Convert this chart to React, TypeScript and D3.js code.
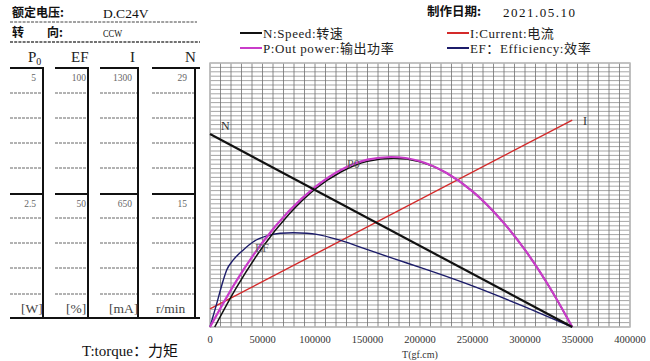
import React from "react";
import * as d3 from "d3";

// ---- data ----
const torqueTicks = [0, 50000, 100000, 150000, 200000, 250000, 300000, 350000, 400000];

const speedTorque = [0, 345000];
const speedValues = [21.2, 0]; // r/min

const currentTorque = [0, 345000];
const currentValues = [89, 1019]; // mA

const powerTorque = [0, 25000, 50000, 75000, 100000, 125000, 150000, 172500, 200000, 225000, 250000, 275000, 300000, 325000, 345000];
const powerValues = [0, 0.87, 1.6, 2.19, 2.65, 2.98, 3.17, 3.22, 3.14, 2.92, 2.57, 2.08, 1.46, 0.7, 0]; // W

const p0Torque = [4500, 25000, 50000, 75000, 100000, 125000, 150000, 175000, 200000, 225000, 250000, 275000, 300000, 325000, 345000];
const p0Values = [0, 0.74, 1.51, 2.13, 2.61, 2.94, 3.14, 3.195, 3.13, 2.92, 2.57, 2.08, 1.46, 0.7, 0];

const efTorque = [0, 6000, 12700, 15900, 22200, 31700, 41300, 54000, 66700, 79400, 92100, 101600, 125000, 150000, 175000, 200000, 225000, 250000, 275000, 300000, 325000, 345000];
const efValues = [0, 8.3, 17.8, 21.6, 25.4, 29.2, 32.3, 34.5, 35.5, 35.7, 35.5, 35.1, 32.7, 29.3, 25.9, 22.6, 19.2, 15.6, 11.7, 7.6, 3.4, 0]; // %

const tableHeaders = ["P", "EF", "I", "N"];
const tableTopValues = ["5", "100", "1300", "29"];
const tableMidValues = ["2.5", "50", "650", "15"];
const tableUnits = ["[W]", "[%]", "[mA]", "r/min"];

const legendItems = [
  { label: "N:Speed:转速", color: "#111111" },
  { label: "I:Current:电流", color: "#d42a2a" },
  { label: "P:Out power:输出功率", color: "#c93cc9" },
  { label: "EF：Efficiency:效率", color: "#1c1c6a" },
];

// ---- layout ----
const W = 650, H = 361;
const PL = 210, PR = 630, PT = 63, PB = 327;
const GRID_COLS = 40;
const GRID_ROWS = 60;

const serif = "'Liberation Serif', 'Noto Sans CJK SC', serif";
const cjk = "'Noto Sans CJK SC', sans-serif";

export default function App() {
  const x = d3.scaleLinear().domain([0, 400000]).range([PL, PR]);
  const yP = d3.scaleLinear().domain([0, 5]).range([PB, PT]);
  const yEF = d3.scaleLinear().domain([0, 100]).range([PB, PT]);
  const yI = d3.scaleLinear().domain([0, 1300]).range([PB, PT]);
  const yN = d3.scaleLinear().domain([0, 29]).range([PB, PT]);

  const mk = (xs: number[], ys: number[], ys2: (v: number) => number, curve: any) =>
    d3.line<number>().x((_, i) => x(xs[i])).y((v) => ys2(v)).curve(curve)(ys) || "";

  const speedPath = mk(speedTorque, speedValues, yN, d3.curveLinear);
  const currentPath = mk(currentTorque, currentValues, yI, d3.curveLinear);
  const powerPath = mk(powerTorque, powerValues, yP, d3.curveMonotoneX);
  const p0Path = mk(p0Torque, p0Values, yP, d3.curveMonotoneX);
  const efPath = mk(efTorque, efValues, yEF, d3.curveMonotoneX);

  const vGrid = d3.range(GRID_COLS + 1).map((i) => PL + ((PR - PL) * i) / GRID_COLS);
  const hGrid = d3.range(GRID_ROWS + 1).map((i) => PT + ((PB - PT) * i) / GRID_ROWS);

  // table columns
  const colLeft = [10, 55, 100, 152];
  const colRight = [43, 88, 138, 195];
  const headerX = [28, 71, 130, 185];
  const topValRight = [36, 86, 132, 187];
  const unitX = [21, 66, 109, 156];
  const dashRows = [93, 118, 143, 168, 218, 243, 268, 294];

  return (
    <svg width={W} height={H} style={{ position: "absolute", left: 0, top: 0, background: "#fff" }}>
      <rect x={0} y={0} width={W} height={H} fill="#fff" />
      {/* header texts */}
      <text x={12} y={17} fontFamily={cjk} fontWeight="bold" fontSize={12} fill="#111">额定电压:</text>
      <text x={103} y={18} fontFamily={serif} fontSize={13.5} fill="#111">D.C24V</text>
      <line x1={10} x2={197} y1={22} y2={22} stroke="#444" strokeWidth={1} strokeDasharray="3,1.2" />
      <text x={12} y={37} fontFamily={cjk} fontWeight="bold" fontSize={12} fill="#111">转</text>
      <text x={47} y={37} fontFamily={cjk} fontWeight="bold" fontSize={12} fill="#111">向:</text>
      <text x={103} y={37} fontFamily={serif} fontSize={10} fill="#111" textLength={19} lengthAdjust="spacingAndGlyphs">CCW</text>
      <line x1={10} x2={200} y1={42} y2={42} stroke="#444" strokeWidth={1.5} strokeDasharray="3,1.2" />

      {/* table */}
      {tableHeaders.map((h, i) => (
        <text key={"h" + i} x={headerX[i]} y={62} fontFamily={serif} fontSize={15} fill="#222">
          {h}
          {i === 0 ? <tspan fontSize={10} dy={3}>0</tspan> : null}
        </text>
      ))}
      {colLeft.map((l, i) => (
        <g key={"c" + i}>
          <line x1={l} x2={i === 3 ? 200 : colRight[i] + 1} y1={68} y2={68} stroke="#111" strokeWidth={2} />
          <line x1={l} x2={colRight[i] + 1} y1={194} y2={194} stroke="#111" strokeWidth={2} />
          <line x1={colRight[i]} x2={colRight[i]} y1={67} y2={319} stroke="#111" strokeWidth={2} />
          {dashRows.map((r, j) => (
            <line key={j} x1={l} x2={colRight[i] - 1} y1={r} y2={r} stroke="#666" strokeWidth={1} strokeDasharray="3,1" />
          ))}
          <text x={topValRight[i]} y={81} textAnchor="end" fontFamily={serif} fontSize={9.5} fill="#666">{tableTopValues[i]}</text>
          <text x={topValRight[i]} y={207} textAnchor="end" fontFamily={serif} fontSize={9.5} fill="#666">{tableMidValues[i]}</text>
          <text x={unitX[i]} y={313} fontFamily={serif} fontSize={13.5} fill="#444">{tableUnits[i]}</text>
        </g>
      ))}
      <line x1={10} x2={200} y1={318} y2={318} stroke="#111" strokeWidth={2} />
      <text x={82} y={356} fontFamily={serif} fontSize={15} fill="#111">T:torque：力矩</text>

      {/* date */}
      <text x={427} y={16} fontFamily={cjk} fontWeight="bold" fontSize={12.5} fill="#111">制作日期:</text>
      <text x={503} y={17} fontFamily={serif} fontSize={13} letterSpacing={1.5} fill="#111">2021.05.10</text>

      {/* legend */}
      {legendItems.map((it, i) => {
        const lx = i % 2 === 0 ? 240 : 447;
        const ly = i < 2 ? 33 : 48;
        return (
          <g key={"l" + i}>
            <line x1={lx} x2={lx + 22} y1={ly} y2={ly} stroke={it.color} strokeWidth={2} />
            <text x={lx + 23} y={ly + 5} fontFamily={serif} fontSize={13} letterSpacing={0.6} fill="#222">{it.label}</text>
          </g>
        );
      })}

      {/* grid */}
      {hGrid.map((yy, i) => (
        <line key={"hg" + i} x1={PL} x2={PR} y1={yy} y2={yy} stroke="#808080" strokeWidth={0.7} />
      ))}
      {vGrid.map((xx, i) => (
        <line key={"vg" + i} x1={xx} x2={xx} y1={PT} y2={PB} stroke="#707070" strokeWidth={0.8} />
      ))}
      <rect x={PL} y={PT} width={PR - PL} height={PB - PT} fill="none" stroke="#bdbdbd" strokeWidth={1.5} />

      {/* curves */}
      <path d={currentPath} fill="none" stroke="#d42a2a" strokeWidth={1.4} />
      <path d={efPath} fill="none" stroke="#1c1c6a" strokeWidth={1.4} />
      <path d={p0Path} fill="none" stroke="#111" strokeWidth={1.5} />
      <path d={powerPath} fill="none" stroke="#c93cc9" strokeWidth={2.2} />
      <path d={speedPath} fill="none" stroke="#111" strokeWidth={2.2} />

      {/* curve labels */}
      <text x={221} y={130} fontFamily={serif} fontSize={12} fill="#333">N</text>
      <text x={583} y={125} fontFamily={serif} fontSize={12} fill="#333">I</text>
      <text x={347} y={168} fontFamily={serif} fontSize={12} fill="#555">P0</text>
      <text x={255} y={252} fontFamily={serif} fontSize={12} fill="#666">EF</text>

      {/* axis ticks */}
      {torqueTicks.map((t) => (
        <text key={"t" + t} x={x(t)} y={343} textAnchor="middle" fontFamily={serif} fontSize={10.5} fill="#333">{t}</text>
      ))}
      <text x={(PL + PR) / 2} y={358} textAnchor="middle" fontFamily={serif} fontSize={10} fill="#333">T(gf.cm)</text>
    </svg>
  );
}
